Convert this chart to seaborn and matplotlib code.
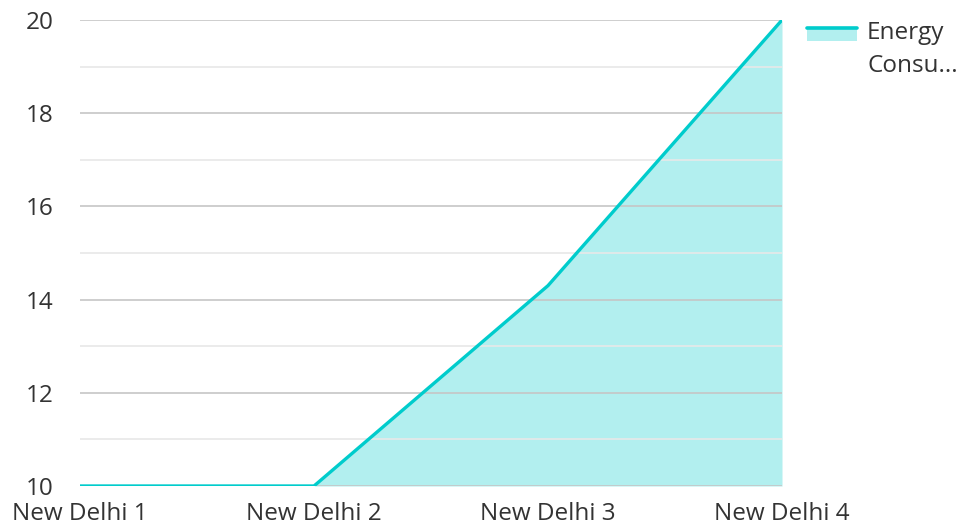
import pandas as pd
import seaborn as sns
import matplotlib.pyplot as plt
from matplotlib.legend_handler import HandlerBase
from matplotlib.patches import Rectangle
from matplotlib.lines import Line2D
from matplotlib.ticker import MultipleLocator

# data
cities = ["New Delhi 1", "New Delhi 2", "New Delhi 3", "New Delhi 4"]
energy = [10, 10, 14.3, 20]
series_name = "Energy\nConsu..."

line_color = "#00CCCC"
fill_color = "#B2EFEF"
text_color = "#333333"


class AreaHandler(HandlerBase):
    # legend key: filled box with the line along its top edge
    def create_artists(self, legend, orig_handle, xdescent, ydescent,
                       width, height, fontsize, trans):
        top = -ydescent + height * 0.75 + 12.5
        rect = Rectangle((-xdescent, top - 9), width, 9,
                         facecolor=fill_color, edgecolor="none", transform=trans)
        line = Line2D([-xdescent, -xdescent + width], [top, top],
                      color=line_color, lw=2.6, transform=trans)
        return [rect, line]


sns.set_style("white")
plt.rcParams['font.family'] = ['Open Sans', 'DejaVu Sans']

df = pd.DataFrame({"city": cities, "energy": energy})

fig = plt.figure(figsize=(9.61, 5.26), dpi=100)
ax = fig.add_axes([80 / 961, 1 - 486 / 526, (782 - 80) / 961, (486 - 20) / 526])

pos = list(range(len(cities)))
ax.fill_between(pos, energy, 10, color=fill_color, lw=0, zorder=1)
sns.lineplot(data=df, x="city", y="energy", color=line_color, lw=2.4,
             ax=ax, zorder=3, sort=False)

ax.set_xlim(0, len(cities) - 1)
ax.set_ylim(10, 20)
ax.yaxis.set_major_locator(MultipleLocator(2))
ax.yaxis.set_minor_locator(MultipleLocator(1))
ax.grid(which="major", axis="y", color="#c6c6c6", lw=1.2, zorder=2)
ax.grid(which="minor", axis="y", color="#e8e8e8", lw=1.2, zorder=2)
ax.grid(axis="x", visible=False)
ax.set_axisbelow(False)
for s in ax.spines.values():
    s.set_visible(False)

ax.set_xlabel("")
ax.set_ylabel("")
ax.tick_params(axis="both", which="both", length=0, labelsize=17.5, colors=text_color)
ax.tick_params(axis="y", pad=19)
ax.tick_params(axis="x", pad=11.5)

leg = ax.legend([object()], [series_name], handler_map={object: AreaHandler()},
                loc="upper left", bbox_to_anchor=(807 / 961, 1 - 21 / 526),
                bbox_transform=fig.transFigure, frameon=False, fontsize=17.5,
                handlelength=2.05, handletextpad=0.42, borderaxespad=0, borderpad=0)
for t in leg.get_texts():
    t.set_color(text_color)
    t.set_linespacing(1.5)

fig.savefig("out.png", dpi=100)
